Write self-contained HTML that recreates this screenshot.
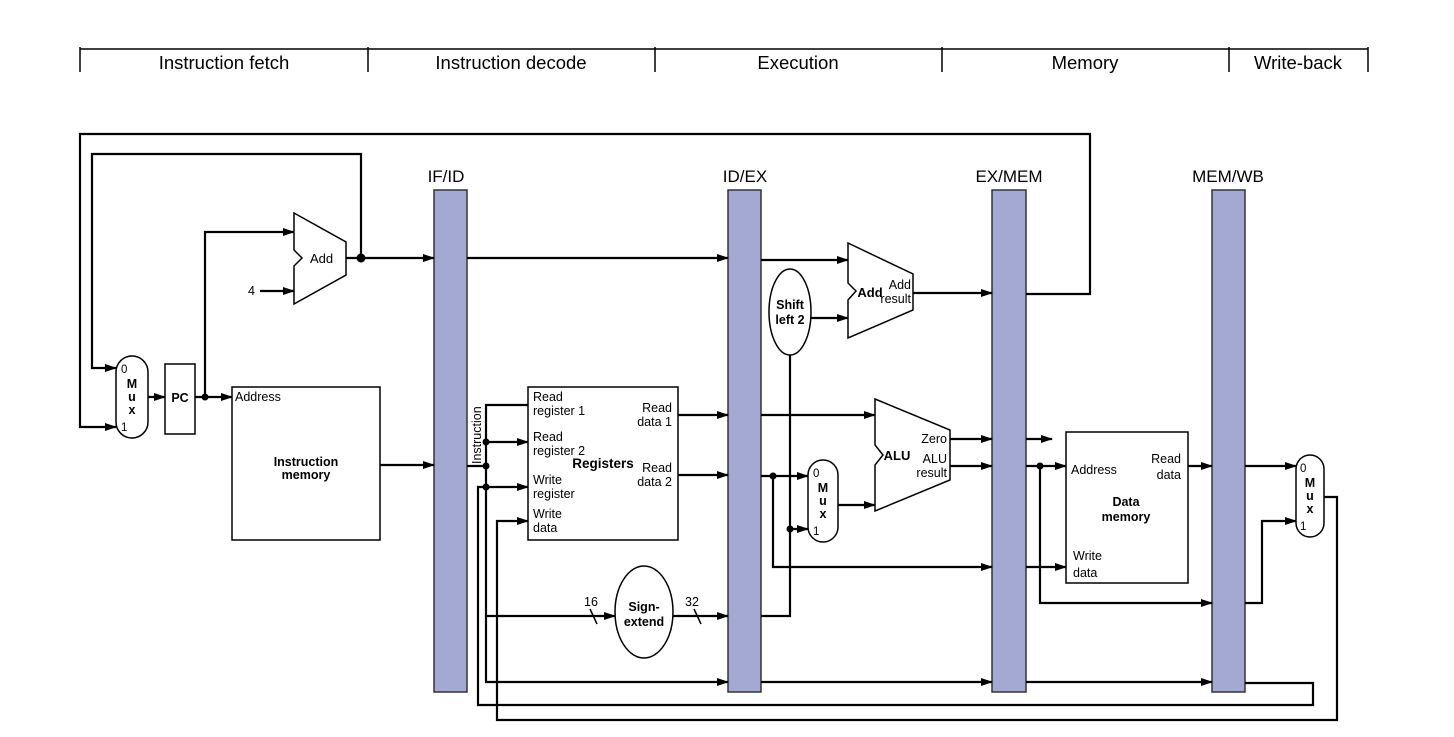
<!DOCTYPE html>
<html><head><meta charset="utf-8"><style>
html,body{margin:0;padding:0;background:#fff}
svg{display:block;font-family:"Liberation Sans",Arial,sans-serif}
</style></head><body>
<svg width="1454" height="737" viewBox="0 0 1454 737" xmlns="http://www.w3.org/2000/svg">
<defs>
<marker id="a" markerUnits="userSpaceOnUse" markerWidth="12" markerHeight="10" refX="11" refY="5" orient="auto">
<path d="M0,1 L12,5 L0,9 Z" fill="#000"/></marker>
</defs>
<g stroke="#000" stroke-width="1.5">
<line x1="80" y1="49" x2="1368" y2="49"/>
<line x1="80" y1="47" x2="80" y2="72"/>
<line x1="368" y1="47" x2="368" y2="72"/>
<line x1="655" y1="47" x2="655" y2="72"/>
<line x1="942" y1="47" x2="942" y2="72"/>
<line x1="1229" y1="47" x2="1229" y2="72"/>
<line x1="1368" y1="47" x2="1368" y2="72"/>
</g>
<g font-size="18.5" text-anchor="middle">
<text x="224" y="69">Instruction fetch</text>
<text x="511" y="69">Instruction decode</text>
<text x="798" y="69">Execution</text>
<text x="1085" y="69">Memory</text>
<text x="1298" y="69">Write-back</text>
</g>
<g fill="#a3a9d3" stroke="#333" stroke-width="1.5">
<rect x="434" y="190" width="33" height="502"/>
<rect x="728" y="190" width="33" height="502"/>
<rect x="992" y="190" width="34" height="502"/>
<rect x="1212" y="190" width="33" height="502"/>
</g>
<g font-size="17" text-anchor="middle">
<text x="446" y="182">IF/ID</text>
<text x="745" y="182">ID/EX</text>
<text x="1009" y="182">EX/MEM</text>
<text x="1228" y="182">MEM/WB</text>
</g>
<g fill="none" stroke="#000" stroke-width="2.2">
<polyline points="1026,294 1090,294 1090,134 80,134 80,427 116,427" marker-end="url(#a)"/>
<polyline points="361,258 361,154 92,154 92,368 116,368" marker-end="url(#a)"/>
<line x1="148" y1="397" x2="165" y2="397" marker-end="url(#a)"/>
<line x1="195" y1="397" x2="232" y2="397" marker-end="url(#a)"/>
<polyline points="205,397 205,232 294,232" marker-end="url(#a)"/>
<line x1="260" y1="291" x2="294" y2="291" marker-end="url(#a)"/>
<line x1="346" y1="258" x2="434" y2="258" marker-end="url(#a)"/>
<line x1="380" y1="465" x2="434" y2="465" marker-end="url(#a)"/>
<line x1="467" y1="258" x2="728" y2="258" marker-end="url(#a)"/>
<line x1="467" y1="466" x2="486" y2="466"/>
<polyline points="528,405 486,405 486,682 728,682" marker-end="url(#a)"/>
<line x1="486" y1="442" x2="528" y2="442" marker-end="url(#a)"/>
<line x1="486" y1="487" x2="528" y2="487" marker-end="url(#a)"/>
<line x1="486" y1="616" x2="615" y2="616" marker-end="url(#a)"/>
<line x1="673" y1="616" x2="728" y2="616" marker-end="url(#a)"/>
<polyline points="1245,683 1313,683 1313,705 478,705 478,487 486,487"/>
<polyline points="1324,497 1337,497 1337,720 497,720 497,521 528,521" marker-end="url(#a)"/>
<line x1="678" y1="415" x2="728" y2="415" marker-end="url(#a)"/>
<line x1="678" y1="475" x2="728" y2="475" marker-end="url(#a)"/>
<line x1="761" y1="260" x2="848" y2="260" marker-end="url(#a)"/>
<line x1="810" y1="318" x2="848" y2="318" marker-end="url(#a)"/>
<polyline points="761,616 790,616 790,354"/>
<line x1="790" y1="529" x2="808" y2="529" marker-end="url(#a)"/>
<line x1="913" y1="293" x2="992" y2="293" marker-end="url(#a)"/>
<line x1="761" y1="415" x2="875" y2="415" marker-end="url(#a)"/>
<line x1="761" y1="476" x2="808" y2="476" marker-end="url(#a)"/>
<line x1="838" y1="505" x2="875" y2="505" marker-end="url(#a)"/>
<polyline points="773,476 773,567 992,567" marker-end="url(#a)"/>
<line x1="950" y1="439" x2="992" y2="439" marker-end="url(#a)"/>
<line x1="950" y1="466" x2="992" y2="466" marker-end="url(#a)"/>
<line x1="761" y1="682" x2="992" y2="682" marker-end="url(#a)"/>
<line x1="1026" y1="439" x2="1052" y2="439" marker-end="url(#a)"/>
<line x1="1026" y1="466" x2="1066" y2="466" marker-end="url(#a)"/>
<polyline points="1040,466 1040,603 1212,603" marker-end="url(#a)"/>
<line x1="1026" y1="567" x2="1066" y2="567" marker-end="url(#a)"/>
<line x1="1188" y1="466" x2="1212" y2="466" marker-end="url(#a)"/>
<line x1="1026" y1="682" x2="1212" y2="682" marker-end="url(#a)"/>
<line x1="1245" y1="466" x2="1296" y2="466" marker-end="url(#a)"/>
<polyline points="1245,603 1262,603 1262,521 1296,521" marker-end="url(#a)"/>
<line x1="590" y1="609" x2="597" y2="624" stroke-width="1.5"/>
<line x1="694" y1="609" x2="701" y2="624" stroke-width="1.5"/>
</g>
<g fill="#000">
<circle cx="361" cy="258" r="4.5"/>
<circle cx="205" cy="397" r="3.5"/>
<circle cx="486" cy="442" r="3.5"/>
<circle cx="486" cy="466" r="3.5"/>
<circle cx="486" cy="487" r="3.5"/>
<circle cx="773" cy="476" r="3.5"/>
<circle cx="790" cy="529" r="3.5"/>
<circle cx="1040" cy="466" r="3.5"/>
</g>
<g fill="#fff" stroke="#000" stroke-width="1.5">
<rect x="116" y="356" width="32" height="82" rx="16"/>
<rect x="165" y="364" width="30" height="70"/>
<rect x="232" y="387" width="148" height="153"/>
<polygon points="294,213 346,242 346,275 294,304 294,266 302,258 294,250"/>
<rect x="528" y="387" width="150" height="153"/>
<ellipse cx="644" cy="612" rx="29" ry="46"/>
<ellipse cx="790" cy="312" rx="21" ry="43"/>
<polygon points="848,243 913,274 913,310 848,338 848,300 856,291 848,283"/>
<polygon points="875,399 950,430 950,480 875,511 875,465 883,455 875,445"/>
<rect x="808" y="460" width="30" height="82" rx="15"/>
<rect x="1066" y="432" width="122" height="151"/>
<rect x="1296" y="455" width="28" height="82" rx="14"/>
</g>
<g font-size="12.5">
<text x="121" y="373" font-size="11.5">0</text><text x="121" y="431" font-size="11.5">1</text>
<text x="813" y="477" font-size="11.5">0</text><text x="813" y="535" font-size="11.5">1</text>
<text x="1300" y="472" font-size="11.5">0</text><text x="1300" y="530" font-size="11.5">1</text>
<text x="235" y="401">Address</text>
<text x="310" y="263" font-size="13">Add</text>
<text x="248" y="295">4</text>
<text x="533" y="401">Read</text><text x="533" y="415">register 1</text>
<text x="533" y="441">Read</text><text x="533" y="455">register 2</text>
<text x="533" y="484">Write</text><text x="533" y="498">register</text>
<text x="533" y="518">Write</text><text x="533" y="532">data</text>
<g text-anchor="end">
<text x="672" y="412">Read</text><text x="672" y="426">data 1</text>
<text x="672" y="472">Read</text><text x="672" y="486">data 2</text>
<text x="911" y="289">Add</text><text x="911" y="303">result</text>
<text x="947" y="443">Zero</text>
<text x="947" y="463">ALU</text><text x="947" y="477">result</text>
<text x="1181" y="463">Read</text><text x="1181" y="479">data</text>
</g>
<text x="584" y="606">16</text><text x="685" y="606">32</text>
<text x="1071" y="474">Address</text>
<text x="1073" y="560">Write</text><text x="1073" y="577">data</text>
<text transform="translate(481,464) rotate(-90)">Instruction</text>
</g>
<g font-size="12.5" font-weight="bold" text-anchor="middle">
<text x="132" y="388">M</text><text x="132" y="401">u</text><text x="132" y="414">x</text>
<text x="823" y="492">M</text><text x="823" y="505">u</text><text x="823" y="518">x</text>
<text x="1310" y="487">M</text><text x="1310" y="500">u</text><text x="1310" y="513">x</text>
<text x="180" y="402">PC</text>
<text x="306" y="466">Instruction</text><text x="306" y="479">memory</text>
<text x="603" y="468" font-size="13.5">Registers</text>
<text x="644" y="611">Sign-</text><text x="644" y="626">extend</text>
<text x="790" y="309">Shift</text><text x="790" y="324">left 2</text>
<text x="870" y="297" font-size="13">Add</text>
<text x="897" y="460" font-size="13">ALU</text>
<text x="1126" y="506">Data</text><text x="1126" y="521">memory</text>
</g>
</svg>
</body></html>
